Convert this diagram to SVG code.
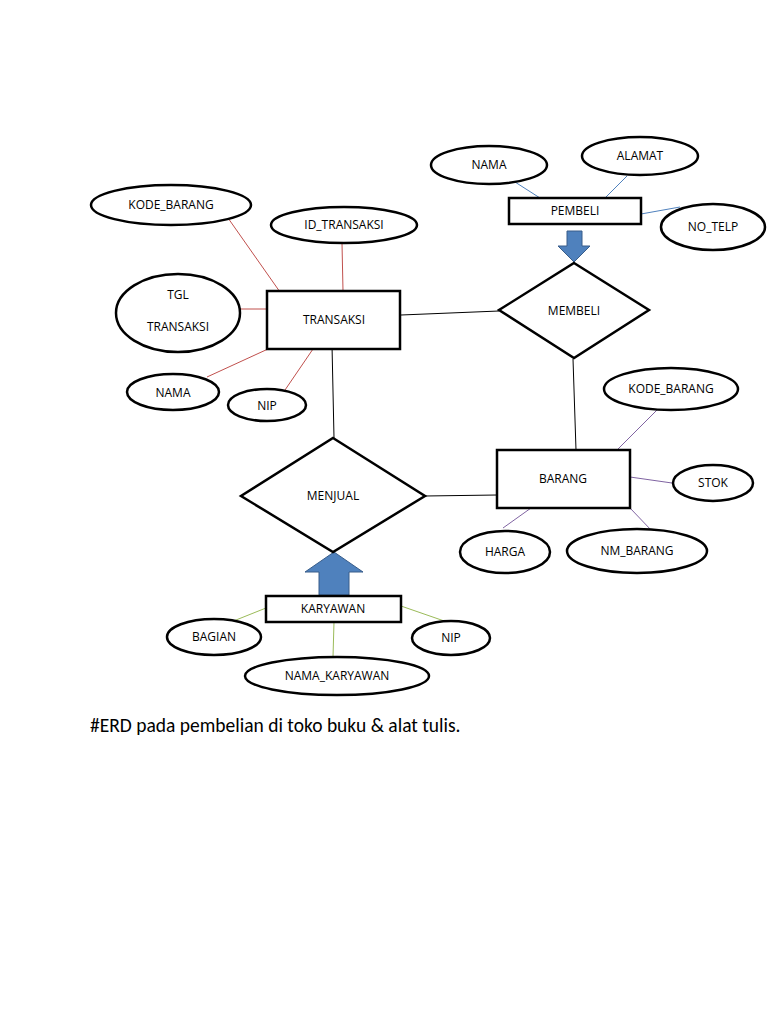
<svg xmlns="http://www.w3.org/2000/svg" width="768" height="1024" viewBox="0 0 768 1024">
<style>
.s{fill:#fff;stroke:#000;stroke-width:2.5}
.t{font-family:"Open Sans","Liberation Sans",sans-serif;font-size:12px;text-anchor:middle;fill:#000}
.r{stroke:#c0504d;stroke-width:1}
.b{stroke:#4f81bd;stroke-width:1}
.p{stroke:#8064a2;stroke-width:1}
.g{stroke:#9bbb59;stroke-width:1}
.k{stroke:#000;stroke-width:1}
.a{fill:#4f81bd;stroke:#385d8a;stroke-width:1}
</style>
<rect width="768" height="1024" fill="#fff"/>
<g id="connectors">
<line class="r" x1="228" y1="218" x2="280" y2="292"/>
<line class="r" x1="342" y1="243" x2="343" y2="291"/>
<line class="r" x1="240" y1="309" x2="267" y2="309"/>
<line class="r" x1="207" y1="377" x2="268" y2="349"/>
<line class="r" x1="285" y1="390" x2="313" y2="349"/>
<line class="k" x1="401" y1="315" x2="499" y2="311"/>
<line class="k" x1="332" y1="345" x2="334" y2="438"/>
<line class="k" x1="573" y1="359" x2="576" y2="450"/>
<line class="k" x1="425" y1="496" x2="497" y2="495"/>
<line class="b" x1="515" y1="182" x2="540" y2="198"/>
<line class="b" x1="627" y1="176" x2="605" y2="198"/>
<line class="b" x1="641" y1="214" x2="680" y2="207"/>
<line class="p" x1="617" y1="450" x2="657" y2="410"/>
<line class="p" x1="630" y1="477" x2="672" y2="483"/>
<line class="p" x1="503" y1="528" x2="531" y2="508"/>
<line class="p" x1="630" y1="508" x2="652" y2="531"/>
<line class="g" x1="226" y1="624" x2="266" y2="608"/>
<line class="g" x1="334" y1="622" x2="333" y2="657"/>
<line class="g" x1="401" y1="606" x2="450" y2="623"/>
</g>
<g id="arrow-pembeli"><path class="a" d="M567 231 H582 V246 H590 L574 262 L558 246 H567 Z"/></g>
<g id="arrow-karyawan"><path class="a" d="M319 595 V572 H305 L334 552 L363 572 H349 V595 Z"/></g>
<g id="transaksi"><rect class="s" x="267" y="291" width="133" height="58"/><text class="t" x="334" y="324">TRANSAKSI</text></g>
<g id="membeli"><polygon class="s" points="574,263 649,310 574,358 499,310"/><text class="t" x="574" y="315">MEMBELI</text></g>
<g id="menjual"><polygon class="s" points="333,438 425,496 333,552 241,496"/><text class="t" x="333" y="500">MENJUAL</text></g>
<g id="barang"><rect class="s" x="497" y="450" width="133" height="58"/><text class="t" x="563" y="483">BARANG</text></g>
<g id="pembeli"><rect class="s" x="509" y="198" width="132" height="26"/><text class="t" x="575" y="215">PEMBELI</text></g>
<g id="karyawan"><rect class="s" x="266" y="596" width="135" height="26"/><text class="t" x="333" y="613">KARYAWAN</text></g>
<g id="kode_barang1"><ellipse class="s" cx="171" cy="205" rx="80" ry="20"/><text class="t" x="171" y="209">KODE_BARANG</text></g>
<g id="id_transaksi"><ellipse class="s" cx="344" cy="225" rx="73" ry="18"/><text class="t" x="344" y="229">ID_TRANSAKSI</text></g>
<g id="tgl"><ellipse class="s" cx="178" cy="313" rx="62" ry="39"/><text class="t" x="178" y="299">TGL</text><text class="t" x="178" y="331">TRANSAKSI</text></g>
<g id="nama1"><ellipse class="s" cx="173" cy="392" rx="46" ry="18"/><text class="t" x="173" y="397">NAMA</text></g>
<g id="nip1"><ellipse class="s" cx="267" cy="405" rx="39" ry="16"/><text class="t" x="267" y="410">NIP</text></g>
<g id="nama2"><ellipse class="s" cx="489" cy="165" rx="58" ry="19"/><text class="t" x="489" y="169">NAMA</text></g>
<g id="alamat"><ellipse class="s" cx="640" cy="156" rx="58" ry="19"/><text class="t" x="640" y="160">ALAMAT</text></g>
<g id="no_telp"><ellipse class="s" cx="713" cy="227" rx="52" ry="23"/><text class="t" x="713" y="231">NO_TELP</text></g>
<g id="kode_barang2"><ellipse class="s" cx="671" cy="389" rx="67" ry="21"/><text class="t" x="671" y="393">KODE_BARANG</text></g>
<g id="stok"><ellipse class="s" cx="713" cy="483" rx="40" ry="18"/><text class="t" x="713" y="487">STOK</text></g>
<g id="harga"><ellipse class="s" cx="505" cy="552" rx="45" ry="21"/><text class="t" x="505" y="556">HARGA</text></g>
<g id="nm_barang"><ellipse class="s" cx="637" cy="551" rx="70" ry="22"/><text class="t" x="637" y="555">NM_BARANG</text></g>
<g id="bagian"><ellipse class="s" cx="214" cy="637" rx="47" ry="18"/><text class="t" x="214" y="641">BAGIAN</text></g>
<g id="nip2"><ellipse class="s" cx="451" cy="638" rx="39" ry="17"/><text class="t" x="451" y="642">NIP</text></g>
<g id="nama_karyawan"><ellipse class="s" cx="337" cy="676" rx="92" ry="19"/><text class="t" x="337" y="680">NAMA_KARYAWAN</text></g>
<text x="90" y="732" font-family="Carlito,'Open Sans','Liberation Sans',sans-serif" font-size="19.5" fill="#000">#ERD pada pembelian di toko buku &amp; alat tulis.</text>
</svg>
